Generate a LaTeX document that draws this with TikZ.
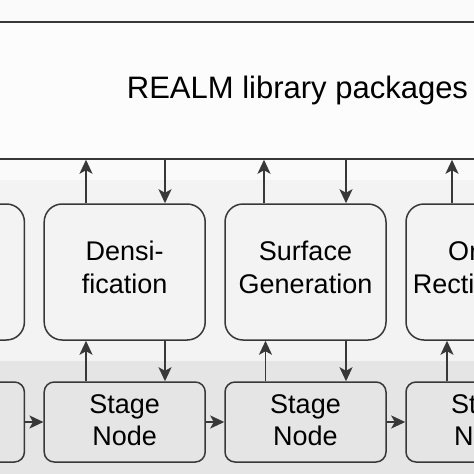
\documentclass[tikz,border=0pt]{standalone}
\usepackage{fontspec}
\setmainfont{Liberation Sans}
\usetikzlibrary{arrows.meta}
\definecolor{linec}{HTML}{383838}
\definecolor{bgc}{HTML}{FAFAFA}
\definecolor{realmfill}{HTML}{FCFCFC}
\definecolor{bandone}{HTML}{F3F3F3}
\definecolor{bandtwo}{HTML}{E5E5E5}
\tikzset{
  realmbox/.style={draw=linec, line width=1.5pt, fill=realmfill, minimum width=800pt, minimum height=137pt, inner sep=0pt},
  stagebox/.style={draw=linec, line width=1.5pt, fill=bandone, rounded corners=18pt, minimum width=161pt, minimum height=136pt, inner sep=0pt},
  nodebox/.style={draw=linec, line width=1.5pt, fill=bandtwo, rounded corners=10pt, minimum width=161pt, minimum height=80pt, inner sep=0pt},
  midtext/.style={align=center, font=\fontsize{27}{33}\selectfont, inner sep=0pt},
  nodetext/.style={align=center, font=\fontsize{27}{32}\selectfont, inner sep=0pt},
  arr/.style={draw=linec, line width=1.8pt, -{Stealth[length=14pt, width=13pt, inset=3.5pt]}},
}
\begin{document}
\begin{tikzpicture}[x=1pt, y=-1pt]
\useasboundingbox (0,0) rectangle (474,474);
\clip (0,0) rectangle (474,474);
\fill[bgc] (0,0) rectangle (474,474);
\fill[bandone] (0,180) rectangle (474,361);
\fill[bandtwo] (0,361) rectangle (474,474);
% top box
\node[realmbox] (realm) at (297,90.5) {};
\node[font=\fontsize{31}{37}\selectfont, inner sep=0pt] (realmt) at (297.5,90) {REALM library packages};
% middle row
\node[stagebox] (s0) at (-56.1,272) {};
\node[stagebox] (s1) at (124.7,272) {};
\node[stagebox] (s2) at (305.5,272) {};
\node[stagebox] (s3) at (486.5,272) {};
\node[midtext] (s1t) at (124.7,267.7) {Densi-\\fication};
\node[midtext] (s2t) at (305.5,267.7) {Surface\\Generation};
\node[midtext] (s3t) at (486.5,267.7) {Ortho-\\Rectification};
% bottom row
\node[nodebox] (n0) at (-56.1,422) {};
\node[nodebox] (n1) at (124.7,422) {};
\node[nodebox] (n2) at (305.5,422) {};
\node[nodebox] (n3) at (486.5,422) {};
\node[nodetext] (n1t) at (124.7,420.2) {Stage\\Node};
\node[nodetext] (n2t) at (305.5,420.2) {Stage\\Node};
\node[nodetext] (n3t) at (486.5,420.2) {Stage\\Node};
% horizontal arrows
\draw[arr] (n0.east) -- (n1.west);
\draw[arr] (n1.east) -- (n2.west);
\draw[arr] (n2.east) -- (n3.west);
% arrows middle <-> top
\draw[arr] ([xshift=-38.7pt]s1.north) -- ([xshift=-38.7pt]s1.north |- realm.south);
\draw[arr] ([xshift=40.3pt]s1.north |- realm.south) -- ([xshift=40.3pt]s1.north);
\draw[arr] ([xshift=-41.5pt]s2.north) -- ([xshift=-41.5pt]s2.north |- realm.south);
\draw[arr] ([xshift=40.5pt]s2.north |- realm.south) -- ([xshift=40.5pt]s2.north);
\draw[arr] ([xshift=-34.5pt]s3.north) -- ([xshift=-34.5pt]s3.north |- realm.south);
% arrows bottom <-> middle
\draw[arr] ([xshift=-38.7pt]n1.north) -- ([xshift=-38.7pt]n1.north |- s1.south);
\draw[arr] ([xshift=40.3pt]n1.north |- s1.south) -- ([xshift=40.3pt]n1.north);
\draw[arr] ([xshift=-40pt]n2.north) -- ([xshift=-40pt]n2.north |- s2.south);
\draw[arr] ([xshift=40.5pt]n2.north |- s2.south) -- ([xshift=40.5pt]n2.north);
\draw[arr] ([xshift=-39.5pt]n3.north) -- ([xshift=-39.5pt]n3.north |- s3.south);
\end{tikzpicture}
\end{document}
